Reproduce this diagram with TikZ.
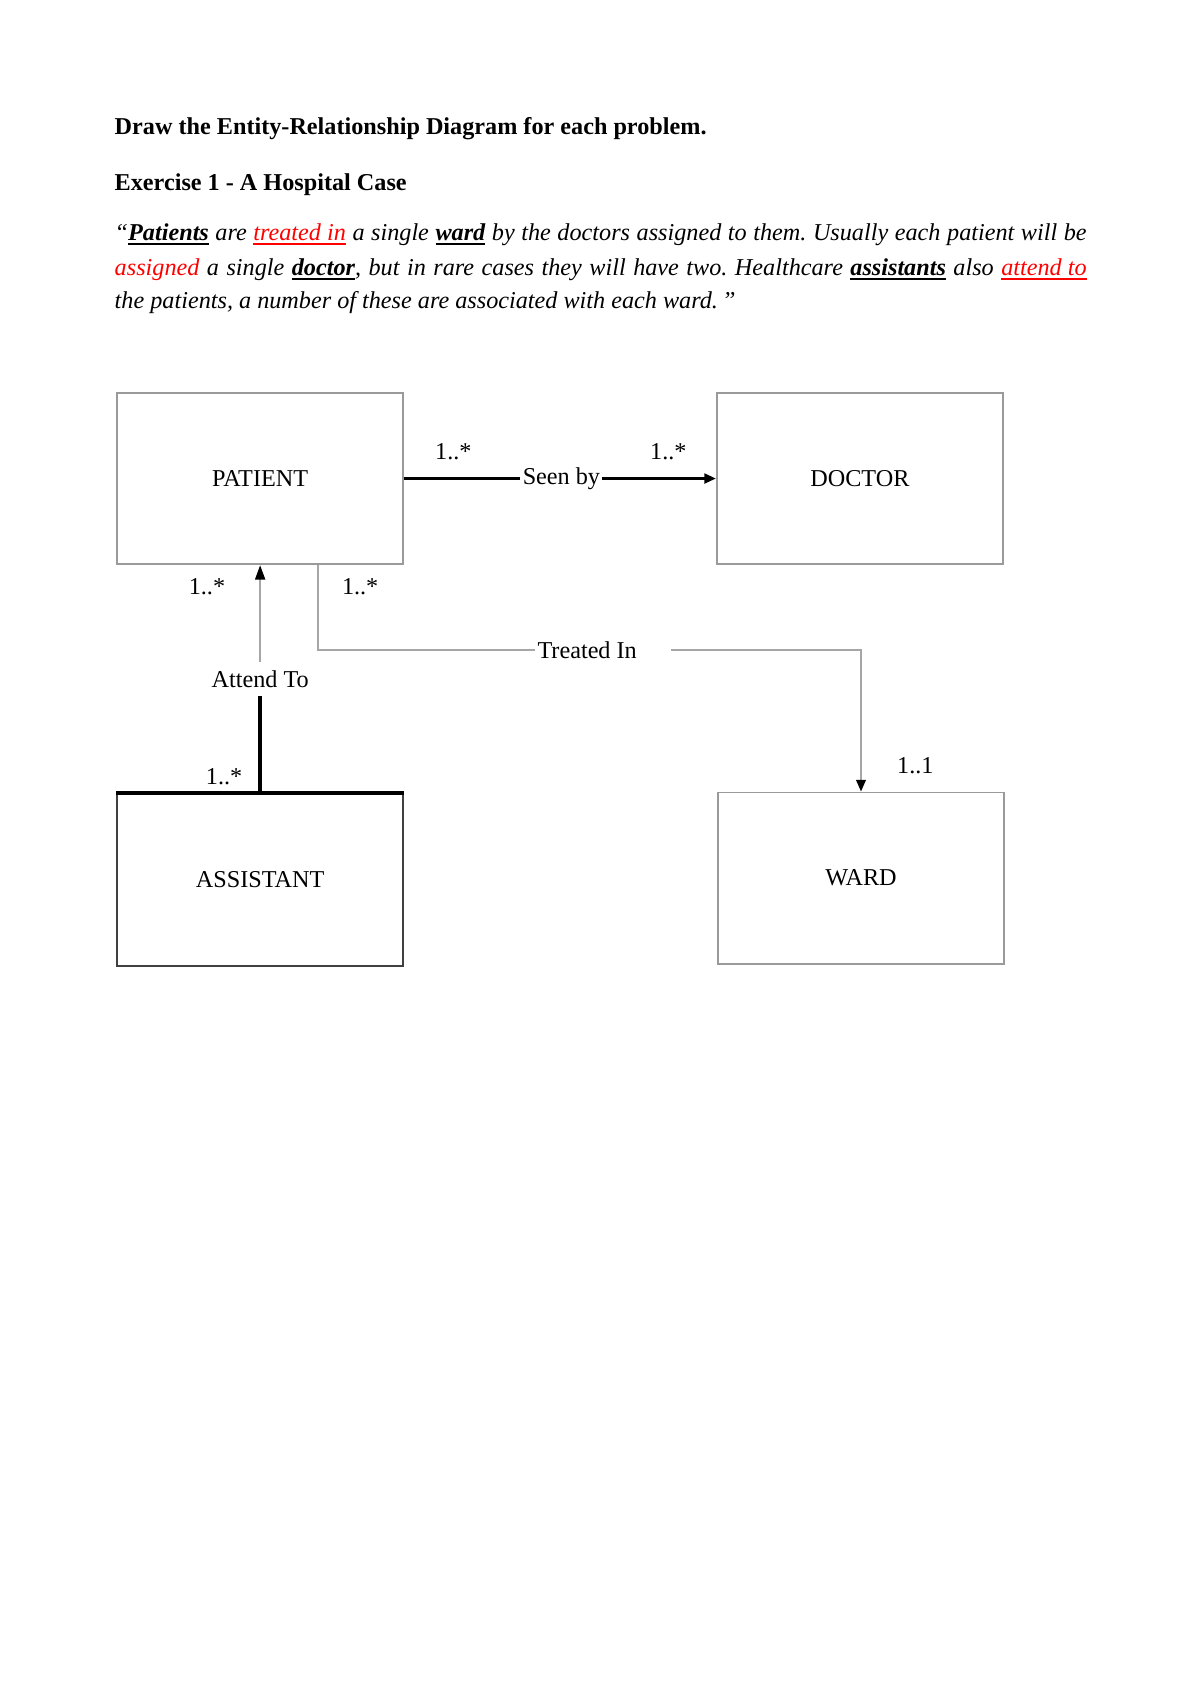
\documentclass[tikz,border=0pt]{standalone}
\usepackage{fontspec}
\setmainfont{Liberation Serif}
\usetikzlibrary{arrows.meta}

\definecolor{boxgray}{HTML}{9A9A9A}
\definecolor{linegray}{HTML}{A6A6A6}
\definecolor{wordred}{HTML}{FF0000}

% underlined key words of the problem text
\newsavebox{\ulbox}
\newcommand{\uword}[1]{\sbox{\ulbox}{\textbf{#1}}\rlap{\rule[-2.6bp]{\wd\ulbox}{1.4bp}}\usebox{\ulbox}}
\newcommand{\rword}[1]{\sbox{\ulbox}{\color{wordred}#1}{\color{wordred}\rlap{\rule[-2.2bp]{\wd\ulbox}{0.9bp}}}\usebox{\ulbox}}

\begin{document}
\begin{tikzpicture}[font=\fontsize{12bp}{14.4bp}\selectfont,
        entity/.style={draw=boxgray, line width=0.9bp, minimum width=5cm, minimum height=3cm, inner sep=0pt},
        textline/.style={anchor=base west, inner sep=0pt},
        rel/.style={inner sep=1pt},
        mult/.style={inner sep=1pt},
        link/.style={draw=linegray, line width=0.9bp},
        strong/.style={line width=1.4bp},
        tip/.style={-{Triangle[length=5.8bp,width=4.8bp,color=black]}},
        longtip/.style={-{Triangle[length=7.2bp,width=5bp,color=black]}}]
        \useasboundingbox (0,0) rectangle (21,-29.7);
        \frenchspacing
        % Heading and problem text
        \node [textline, font=\fontsize{12bp}{14.4bp}\selectfont\bfseries] (title) at (2,-2.345)
                {Draw the Entity-Relationship Diagram for each problem.};
        \node [textline, font=\fontsize{12bp}{14.4bp}\selectfont\bfseries] (exercise) at (2,-3.325)
                {Exercise 1 - A Hospital Case};
        \node [textline, font=\fontsize{12bp}{14.4bp}\selectfont\itshape] (textone) at (2,-4.2)
                {\makebox[17cm][s]{“\uword{Patients} are \rword{treated in} a single \uword{ward} by the doctors assigned to them. Usually each patient will be}};
        \node [textline, font=\fontsize{12bp}{14.4bp}\selectfont\itshape] (texttwo) at (2,-4.813)
                {\makebox[17cm][s]{{\color{wordred}assigned} a single \uword{doctor}, but in rare cases they will have two. Healthcare \uword{assistants} also \rword{attend to}}};
        \node [textline, font=\fontsize{12bp}{14.4bp}\selectfont\itshape] (textthree) at (2,-5.39)
                {the patients, a number of these are associated with each ward.\,”};
        % Draw entities
        \node [entity] (patient) at (4.55,-8.37) {PATIENT};
        \node [entity] (doctor) at (15.04,-8.37) {DOCTOR};
        \node [entity, draw=black!75] (assistant) at (4.55,-15.39) {ASSISTANT};
        \node [entity] (ward) at (15.06,-15.36) {WARD};
        % Relationships
        \node [rel] (seenby) at (9.82,-8.37) {Seen by};
        \node [rel, inner sep=4bp, anchor=base] (attend) at (4.55,-12.02) {Attend To};
        \node [rel] (treated) at (10.27,-11.375) {Treated In};
        \draw [strong] (patient) -- (seenby);
        \draw [strong, tip] (seenby) -- (doctor);
        \draw [link, longtip] (attend) -- (patient);
        \draw [line width=2bp] (attend) -- (assistant);
        \draw [line width=2bp] (assistant.north west) -- (assistant.north east);
        \draw [link] ([xshift=-1.5cm]patient.south east) |- (treated.west);
        \draw [link, tip] ([xshift=16bp]treated.east) -| (ward);
        % Multiplicities
        \node [mult] (seenleft) at (7.93,-7.905) {1..*};
        \node [mult] (seenright) at (11.69,-7.905) {1..*};
        \node [mult] (attendtop) at (3.62,-10.27) {1..*};
        \node [mult] (treatedtop) at (6.30,-10.27) {1..*};
        \node [mult] (attendbottom) at (3.92,-13.59) {1..*};
        \node [mult] (treatedbottom) at (16.01,-13.39) {1..1};
\end{tikzpicture}
\end{document}
